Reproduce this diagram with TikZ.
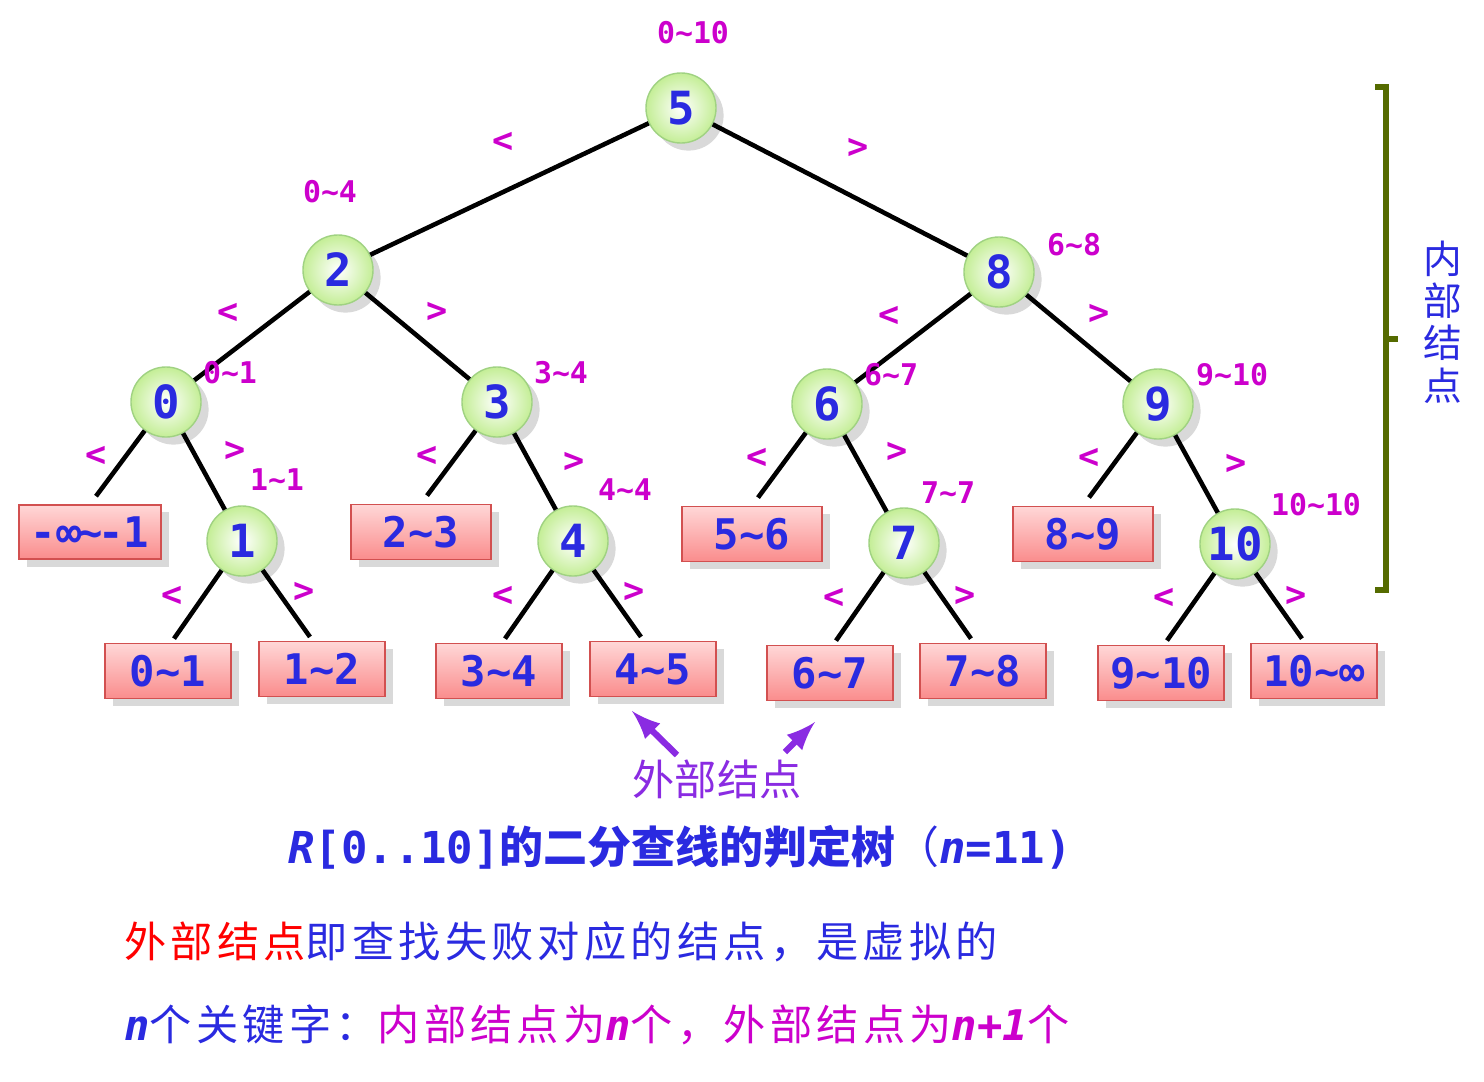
\documentclass[tikz,border=0pt]{standalone}
\usepackage{fontspec}
\newfontfamily\mono{DejaVu Sans Mono}
\newfontfamily\cjk{Noto Sans CJK SC}
\usetikzlibrary{shadows}
\newcommand\tld{\char126\relax}
\definecolor{nblue}{HTML}{2A2AE0}
\definecolor{mag}{HTML}{CC00CC}
\definecolor{olive}{HTML}{556B00}
\definecolor{purp}{HTML}{8A2BE2}
\tikzset{
 inode/.style={circle,minimum size=0.7cm,inner sep=0pt,draw={rgb,255:red,160;green,210;blue,130},inner color=white,outer color={rgb,255:red,196;green,238;blue,150},drop shadow={opacity=0.3},font=\mono\bfseries\fontsize{13}{13}\selectfont,text=nblue},
 ebox/.style={rectangle,minimum width=1.4cm,minimum height=0.5cm,draw={rgb,255:red,210;green,80;blue,80},top color={rgb,255:red,255;green,215;blue,215},bottom color={rgb,255:red,250;green,140;blue,140},drop shadow={opacity=0.3},font=\mono\bfseries\fontsize{12}{12}\selectfont,text=nblue},
 sbox/.style={ebox,minimum width=1.26cm},
 rng/.style={font=\mono\bfseries\fontsize{8.5}{9}\selectfont,text=mag},
 cmp/.style={font=\mono\bfseries\fontsize{10}{10}\selectfont,text=mag},
 edge/.style={line width=1.3pt},
 cjkt/.style={font=\cjk\fontsize{12}{12}\selectfont}
}
\begin{document}
\begin{tikzpicture}[x=0.01cm,y=-0.01cm]
\useasboundingbox (0,0) rectangle (1484,1081);
\node[inode] (n5) at (681,108) {5};
\node[inode] (n2) at (338,270) {2};
\node[inode] (n8) at (999,272) {8};
\node[inode] (n0) at (166,402) {0};
\node[inode] (n3) at (497,402) {3};
\node[inode] (n6) at (827,404) {6};
\node[inode] (n9) at (1158,404) {9};
\node[inode] (n1) at (242,541) {1};
\node[inode] (n4) at (573,541) {4};
\node[inode] (n7) at (904,543) {7};
\node[inode] (n10) at (1235,544) {10};
\node[ebox] (e1) at (90,532) {-∞\kern-0.1em\tld\kern-0.1em-1};
\node[ebox] (e23) at (421,532) {2\tld3};
\node[ebox] (e56) at (752,534) {5\tld6};
\node[ebox] (e89) at (1083,534) {8\tld9};
\node[sbox] (e01) at (168,671) {0\tld1};
\node[sbox] (e12) at (322,669) {1\tld2};
\node[sbox] (e34) at (499,671) {3\tld4};
\node[sbox] (e45) at (653,669) {4\tld5};
\node[sbox] (e67) at (830,673) {6\tld7};
\node[sbox] (e78) at (983,671) {7\tld8};
\node[sbox] (e910) at (1161,673) {9\tld10};
\node[sbox] (e10i) at (1314,671) {10\tld∞};
\draw[edge] (n5)--(n2); \draw[edge] (n5)--(n8);
\draw[edge] (n2)--(n0); \draw[edge] (n2)--(n3);
\draw[edge] (n8)--(n6); \draw[edge] (n8)--(n9);
\draw[edge] (n0)--([xshift=0.06cm,yshift=0.08cm]e1.north); \draw[edge] (n0)--(n1);
\draw[edge] (n3)--([xshift=0.06cm,yshift=0.08cm]e23.north); \draw[edge] (n3)--(n4);
\draw[edge] (n6)--([xshift=0.06cm,yshift=0.08cm]e56.north); \draw[edge] (n6)--(n7);
\draw[edge] (n9)--([xshift=0.06cm,yshift=0.08cm]e89.north); \draw[edge] (n9)--(n10);
\draw[edge] (n1)--([xshift=0.06cm,yshift=0.04cm]e01.north); \draw[edge] (n1)--([xshift=-0.12cm,yshift=0.04cm]e12.north);
\draw[edge] (n4)--([xshift=0.06cm,yshift=0.04cm]e34.north); \draw[edge] (n4)--([xshift=-0.12cm,yshift=0.04cm]e45.north);
\draw[edge] (n7)--([xshift=0.06cm,yshift=0.04cm]e67.north); \draw[edge] (n7)--([xshift=-0.12cm,yshift=0.04cm]e78.north);
\draw[edge] (n10)--([xshift=0.06cm,yshift=0.04cm]e910.north); \draw[edge] (n10)--([xshift=-0.12cm,yshift=0.04cm]e10i.north);
\node[rng] (r5) at (693,33) {0\tld10};
\node[rng] (r2) at (330,192) {0\tld4};
\node[rng] (r8) at (1074,245) {6\tld8};
\node[rng] (r0) at (230,373) {0\tld1};
\node[rng] (r3) at (561,373) {3\tld4};
\node[rng] (r6) at (891,375) {6\tld7};
\node[rng] (r9) at (1232,375) {9\tld10};
\node[rng] (r1) at (277,480) {1\tld1};
\node[rng] (r4) at (625,490) {4\tld4};
\node[rng] (r7) at (948,493) {7\tld7};
\node[rng] (r10) at (1316,505) {10\tld10};
\foreach \i/\x/\y/\s in {a/503/142/<,b/858/148/>,c/228/313/<,d/437/312/>,e/889/316/<,f/1099/314/>,g/96/456/<,h/235/451/>,i/427/456/<,j/574/462/>,k/757/458/<,l/897/452/>,m/1089/458/<,n/1236/464/>,o/172/596/<,p/304/592/>,q/503/596/<,r/634/592/>,s/834/598/<,t/965/596/>,u/1164/598/<,v/1296/596/>}
  \node[cmp] (c\i) at (\x,\y) {\s};
\draw[olive,line width=1.6pt] (1375,87)--(1386,87)--(1386,590)--(1375,590);
\draw[olive,line width=1.6pt] (1386,339)--(1398,339);
\node[text=nblue,font=\cjk\fontsize{11}{12}\selectfont,align=center] (inner) at (1443,322) {内\\部\\结\\点};
\node[cjkt,text=purp] (ext) at (717,779) {外部结点};
\coordinate (a1) at (632,711); \coordinate (a2) at (815,722);
\draw[purp,line width=1.8pt,-latex] (677,755)--(a1);
\draw[purp,line width=1.8pt,-latex] (785,752)--(a2);
\node[text=nblue,font=\fontsize{12.5}{13}\selectfont] (title) at (680,847) {{\mono\itshape\bfseries R}{\mono\bfseries [0..10]}{\cjk\bfseries 的二分查线的判定树}{\cjk （}{\mono\bfseries\itshape n}{\mono\bfseries =11)}};
\node[cjkt,anchor=west] (l1) at (112,942) {\addfontfeatures{LetterSpace=10}\color{red}外部结点\color{nblue}即查找失败对应的结点，是虚拟的};
\node[cjkt,anchor=west] (l2) at (112,1025) {\addfontfeatures{LetterSpace=10}\color{nblue}{\mono\bfseries\itshape n}个关键字：\color{mag}内部结点为{\mono\bfseries\itshape n}个，外部结点为{\mono\bfseries\itshape n+1}个};
\end{tikzpicture}
\end{document}
